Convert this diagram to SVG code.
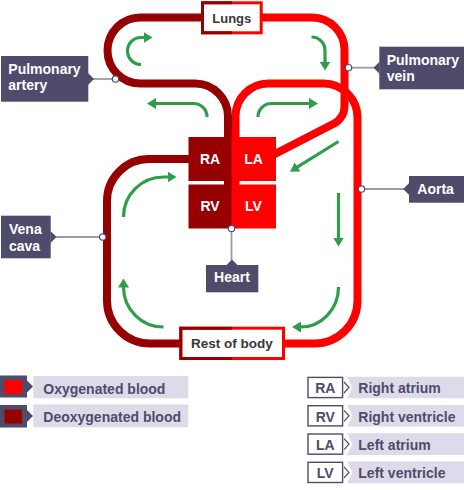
<svg xmlns="http://www.w3.org/2000/svg" width="464" height="490" viewBox="0 0 464 490">
<style>
.pd{fill:none;stroke:#960000;stroke-width:8}
.pr{fill:none;stroke:#ff0000;stroke-width:8}
.ar{fill:none;stroke:#2e9e4a;stroke-width:3.2;marker-end:url(#ah)}
.lb{fill:#4f4b6b}
.t{font-family:"Liberation Sans",Arial,sans-serif;font-weight:bold;font-size:14px}
.w{fill:#fff}
.k{fill:#383838}
.s{fill:#4f4b6b}
.ld{stroke:#9b99ad;stroke-width:1.8;fill:none}
.dot{fill:#fff;stroke:#4f4b6b;stroke-width:1.2}
.lav{fill:#dddbe9}
</style>
<defs>
<marker id="ah" viewBox="0 0 9 11" refX="0.5" refY="5.5" markerWidth="9" markerHeight="11" markerUnits="userSpaceOnUse" orient="auto">
<path d="M0,0 L9,5.5 L0,11 z" fill="#2e9e4a"/>
</marker>
</defs>
<g id="connectors">
<path id="vena-cava" class="pd" d="M232 343.5 H150 A43 43 0 0 1 107 300.5 V201 A42 42 0 0 1 149 159 H192"/>
<path id="aorta" class="pr" d="M231.5 343.5 H314.5 A43 43 0 0 0 357.5 300.5 V117.5 A34 34 0 0 0 323.5 83.5 H268.5 A33 33 0 0 0 235.5 116.5 V228"/>
<path id="pulmonary-artery" class="pd" d="M204 17.5 H140.5 A33 33 0 0 0 140.5 83.5 H195 A33 33 0 0 1 228 116.5 V228"/>
<path id="pulmonary-vein" class="pr" d="M259 17.5 H312 A32.5 32.5 0 0 1 344.5 50 V106 A20 20 0 0 1 333.6 123.8 L272 155.5"/>
</g>
<g id="flow-arrows">
<path class="ar" d="M141 64.5 A13.5 13.5 0 0 1 141 37.5 H144"/>
<path class="ar" d="M311.5 37 A13.5 13.5 0 0 1 325 50.5 V62"/>
<path class="ar" d="M207 117 A13.5 13.5 0 0 0 193.5 103.5 H155.5"/>
<path class="ar" d="M258 117 A13.5 13.5 0 0 1 271.5 103.5 H309.5"/>
<path class="ar" d="M338.5 141.5 L297.2 167.2"/>
<path class="ar" d="M338.5 193 V238"/>
<path class="ar" d="M338.5 287 A38 40 0 0 1 300.5 327"/>
<path class="ar" d="M163.5 327 A40 40 0 0 1 123.5 287"/>
<path class="ar" d="M123.5 217 A40 40 0 0 1 163.5 177 H168"/>
</g>
<g id="lungs">
<rect x="202.5" y="2.8" width="58.7" height="30" fill="#fff" stroke="#ff0000" stroke-width="3"/>
<path d="M231.8 2.8 H202.5 V32.8 H231.8" fill="none" stroke="#960000" stroke-width="3"/>
<text class="t k" x="231.8" y="22.7" text-anchor="middle" style="font-size:13px">Lungs</text>
</g>
<g id="rest-of-body">
<rect x="180.8" y="328.2" width="102.7" height="30.3" fill="#fff" stroke="#ff0000" stroke-width="3"/>
<path d="M231.7 328.2 H180.8 V358.5 H231.7" fill="none" stroke="#960000" stroke-width="3"/>
<text class="t k" x="232" y="348" text-anchor="middle" style="font-size:13.5px">Rest of body</text>
</g>
<g id="heart">
<rect id="ra" x="188.5" y="137" width="43" height="44" fill="#960000"/>
<rect id="rv" x="188.5" y="184.5" width="43" height="44" fill="#960000"/>
<rect id="la" x="231.5" y="137" width="44.5" height="44" fill="#ff0000"/>
<rect id="lv" x="231.5" y="184.5" width="44.5" height="44" fill="#ff0000"/>
<text class="t w" x="210" y="164" text-anchor="middle">RA</text>
<text class="t w" x="210" y="211" text-anchor="middle">RV</text>
<text class="t w" x="253.5" y="164" text-anchor="middle">LA</text>
<text class="t w" x="253.5" y="211" text-anchor="middle">LV</text>
</g>
<g id="label-heart">
<line class="ld" x1="231.5" y1="231" x2="231.5" y2="263"/>
<circle class="dot" cx="231.5" cy="228.5" r="3.2"/>
<rect class="lb" x="206" y="265" width="52.3" height="27.3"/>
<path class="lb" d="M226.5 265 L232 259.5 L237.5 265 z"/>
<text class="t w" x="232" y="282" text-anchor="middle">Heart</text>
</g>
<g id="label-pulmonary-artery">
<line class="ld" x1="92" y1="79" x2="113" y2="79"/>
<circle class="dot" cx="115.5" cy="79" r="3.2"/>
<rect class="lb" x="1" y="56" width="87.3" height="45.7"/>
<path class="lb" d="M88 73 L94 79 L88 85 z"/>
<text class="t w" x="8.3" y="74.3">Pulmonary</text>
<text class="t w" x="8.3" y="90">artery</text>
</g>
<g id="label-vena-cava">
<line class="ld" x1="54" y1="237" x2="100" y2="237"/>
<circle class="dot" cx="102.7" cy="237" r="3.2"/>
<rect class="lb" x="1" y="215.7" width="49.7" height="42.6"/>
<path class="lb" d="M50.5 231 L56.5 237 L50.5 243 z"/>
<text class="t w" x="9" y="234">Vena</text>
<text class="t w" x="9" y="250.5">cava</text>
</g>
<g id="label-pulmonary-vein">
<line class="ld" x1="351" y1="67.7" x2="375" y2="67.7"/>
<circle class="dot" cx="348.5" cy="67.7" r="3.2"/>
<rect class="lb" x="379.3" y="46.7" width="84.7" height="42.6"/>
<path class="lb" d="M379.5 61.7 L373.5 67.7 L379.5 73.7 z"/>
<text class="t w" x="386.7" y="65">Pulmonary</text>
<text class="t w" x="386.7" y="80.5">vein</text>
</g>
<g id="label-aorta">
<line class="ld" x1="364" y1="189" x2="405" y2="189"/>
<circle class="dot" cx="361.5" cy="189" r="3.2"/>
<rect class="lb" x="409" y="176" width="55" height="26.7"/>
<path class="lb" d="M409.2 183 L403.2 189 L409.2 195 z"/>
<text class="t w" x="417.3" y="194">Aorta</text>
</g>
<g id="legend-blood">
<rect class="lb" x="0" y="375.5" width="27" height="22"/>
<rect x="4.5" y="380" width="17.5" height="14" fill="#ff0000"/>
<path class="lb" d="M27 380.5 L33 386.5 L27 392.5 z"/>
<rect class="lav" x="33.3" y="376" width="155" height="22.3"/>
<text class="t s" x="43.3" y="393.5">Oxygenated blood</text>
<rect class="lb" x="0" y="405" width="27" height="22.5"/>
<rect x="4.5" y="409.5" width="17.5" height="14" fill="#960000"/>
<path class="lb" d="M27 410 L33 416 L27 422 z"/>
<rect class="lav" x="33.3" y="404.5" width="155" height="22.8"/>
<text class="t s" x="43.3" y="422.3">Deoxygenated blood</text>
</g>
<g id="legend-chambers">
<g>
<rect x="308" y="377.4" width="34.6" height="20.2" fill="#fff" stroke="#4f4b6b" stroke-width="1.4"/>
<polyline points="344,382 349,387.5 344,393" fill="none" stroke="#4f4b6b" stroke-width="1.2"/>
<path class="lav" d="M347 376.7 H464 V398.3 H347 L352.5 387.5 z"/>
<text class="t s" x="325.3" y="393.3" text-anchor="middle">RA</text>
<text class="t s" x="358.3" y="393.3">Right atrium</text>
</g>
<g>
<rect x="308" y="405.7" width="34.6" height="20.2" fill="#fff" stroke="#4f4b6b" stroke-width="1.4"/>
<polyline points="344,410.3 349,415.8 344,421.3" fill="none" stroke="#4f4b6b" stroke-width="1.2"/>
<path class="lav" d="M347 405 H464 V426.6 H347 L352.5 415.8 z"/>
<text class="t s" x="325.3" y="421.6" text-anchor="middle">RV</text>
<text class="t s" x="358.3" y="421.6">Right ventricle</text>
</g>
<g>
<rect x="308" y="434" width="34.6" height="20.2" fill="#fff" stroke="#4f4b6b" stroke-width="1.4"/>
<polyline points="344,438.6 349,444.1 344,449.6" fill="none" stroke="#4f4b6b" stroke-width="1.2"/>
<path class="lav" d="M347 433.3 H464 V454.9 H347 L352.5 444.1 z"/>
<text class="t s" x="325.3" y="449.9" text-anchor="middle">LA</text>
<text class="t s" x="358.3" y="449.9">Left atrium</text>
</g>
<g>
<rect x="308" y="462.3" width="34.6" height="20.2" fill="#fff" stroke="#4f4b6b" stroke-width="1.4"/>
<polyline points="344,466.9 349,472.4 344,477.9" fill="none" stroke="#4f4b6b" stroke-width="1.2"/>
<path class="lav" d="M347 461.6 H464 V483.2 H347 L352.5 472.4 z"/>
<text class="t s" x="325.3" y="478.2" text-anchor="middle">LV</text>
<text class="t s" x="358.3" y="478.2">Left ventricle</text>
</g>
</g>
</svg>
